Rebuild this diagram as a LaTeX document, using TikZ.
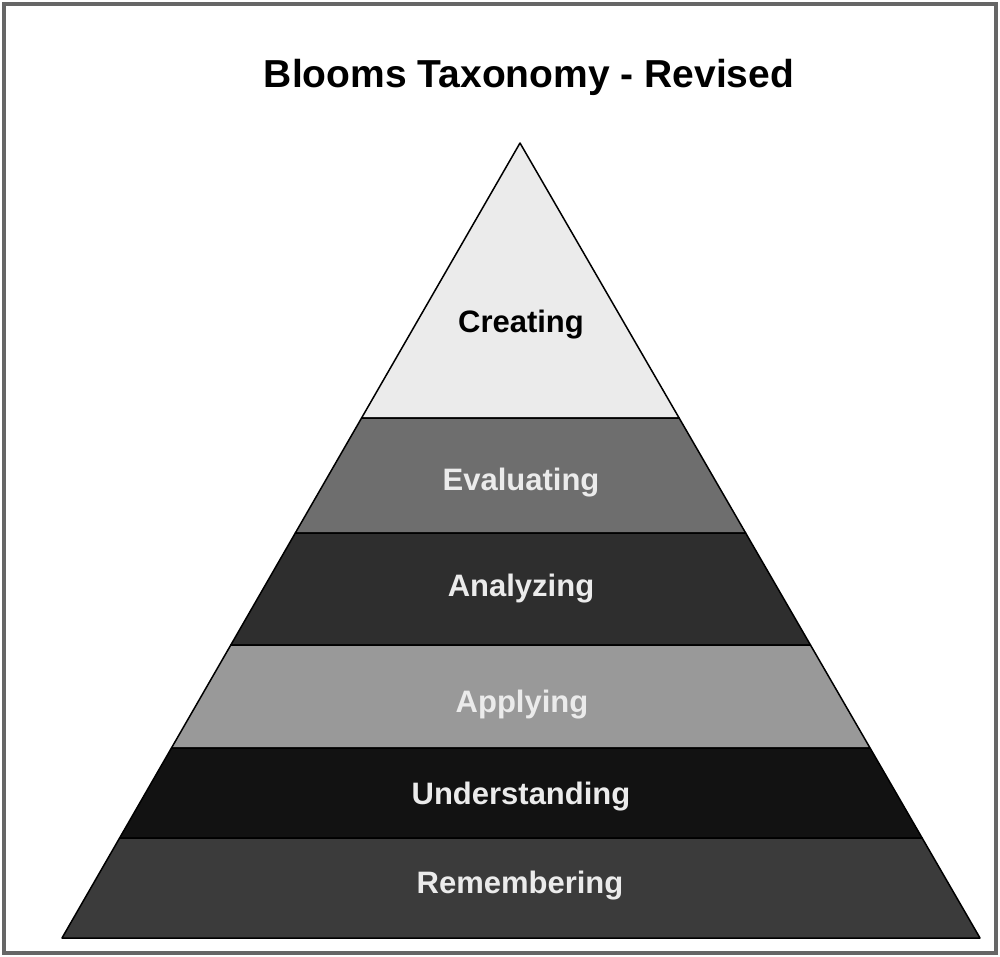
\documentclass[tikz,border=0pt]{standalone}
\usepackage{fontspec}
\setmainfont{Liberation Sans}
\begin{document}
\begin{tikzpicture}[x=1pt,y=-1pt,
  band/.style={draw=black,line width=1.5pt,line join=round},
  lab/.style={font=\bfseries\fontsize{31}{36}\selectfont,text=white!92!black}]
\useasboundingbox (0,0) rectangle (1000,957);
\fill[white] (0,0) rectangle (1000,957);
\draw[gray!80!black,line width=4pt] (4,4) rectangle (996,953);
\node[font=\bfseries\fontsize{39}{44}\selectfont] (title) at (529,77) {Blooms Taxonomy - Revised};
% y levels: 143 apex, 418, 533, 645, 748, 838, 938
\def\L#1{520-0.5761*(#1-143)}
\def\R#1{520+0.5786*(#1-143)}
\foreach \ya/\yb/\c in {143/418/{black!8},418/533/{black!57},533/645/{black!82},645/748/{black!40},748/838/{black!93},838/938/{black!77}}{
  \draw[band,fill=\c] ({\L{\ya}},\ya) -- ({\R{\ya}},\ya) -- ({\R{\yb}},\yb) -- ({\L{\yb}},\yb) -- cycle;
}
\node[lab,text=black] (cr) at (521,325) {Creating};
\node[lab] (ev) at (521,483) {Evaluating};
\node[lab] (an) at (521,589) {Analyzing};
\node[lab] (ap) at (522,705) {Applying};
\node[lab] (un) at (521,797) {Understanding};
\node[lab] (re) at (520,886) {Remembering};
\end{tikzpicture}
\end{document}
